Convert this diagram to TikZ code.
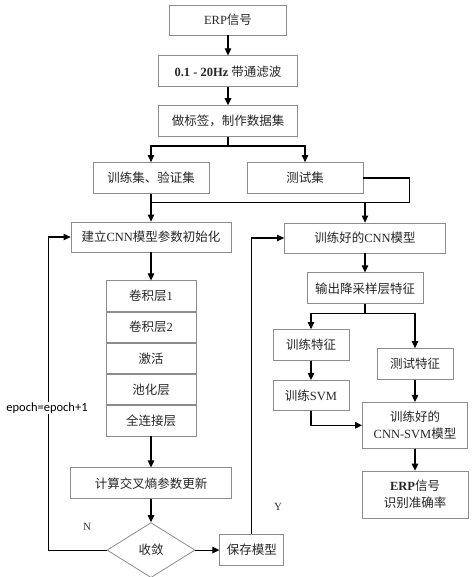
\documentclass[tikz,border=0pt]{standalone}
\usepackage{fontspec}
\setmainfont{Liberation Serif}
\newfontfamily\zhfont{Noto Sans CJK SC}
\newfontfamily\lblfont{Carlito}
\newcommand{\zh}[1]{{\zhfont #1}}
\usetikzlibrary{arrows.meta,positioning,calc,shapes.geometric}

\begin{document}
\begin{tikzpicture}[x=1pt, y=1pt, >={Triangle[length=7pt,width=6.5pt]},
  stepbox/.style={draw=black!45, line width=0.8pt, align=center, minimum height=31pt, inner sep=2pt, text=black!85, font=\fontsize{12.5}{17}\selectfont},
  laybox/.style={stepbox, minimum width=90pt, minimum height=30.4pt},
  decbox/.style={stepbox, diamond, aspect=1.6, minimum width=88pt, minimum height=55pt, inner sep=0pt},
  flow/.style={line width=1.1pt, black}]
  \useasboundingbox (0,0) rectangle (474,-577);
  \node[stepbox, minimum width=117pt, minimum height=30pt] (erp) at (228,-20) {ERP\zh{信号}};
  \node[stepbox, minimum width=139pt, below=20pt of erp] (bpf) {\textbf{0.1 - 20Hz} \zh{带通滤波}};
  \node[stepbox, minimum width=139pt, below=18pt of bpf] (lab) {\zh{做标签，制作数据集}};
  \node[stepbox, minimum width=116pt] (trval) at (151,-178) {\zh{训练集、验证集}};
  \node[stepbox, minimum width=116pt] (test) at (305,-178) {\zh{测试集}};
  \node[stepbox, minimum width=160pt, minimum height=30pt] (init) at (151,-237) {\zh{建立}CNN\zh{模型参数初始化}};
  \node[stepbox, minimum width=161pt, minimum height=30pt] (cnn) at (365,-238) {\zh{训练好的}CNN\zh{模型}};
  % CNN layers
  \node[laybox, below=28pt of init] (c1) {\zh{卷积层}1};
  \node[laybox, below=0pt of c1] (c2) {\zh{卷积层}2};
  \node[laybox, below=0pt of c2] (act) {\zh{激活}};
  \node[laybox, below=0pt of act] (pool) {\zh{池化层}};
  \node[laybox, below=0pt of pool] (fc) {\zh{全连接层}};
  \node[stepbox, minimum width=161pt, below=31pt of fc] (loss) {\zh{计算交叉熵参数更新}};
  \node[decbox, below=23pt of loss] (conv) {\zh{收敛}};
  \node[stepbox, minimum width=64pt, right=24pt of conv] (save) {\zh{保存模型}};
  % SVM side
  \node[stepbox, minimum width=116pt, below=19pt of cnn] (feat) {\zh{输出降采样层特征}};
  \node[stepbox, minimum width=76pt] (trf) at (311,-345) {\zh{训练特征}};
  \node[stepbox, minimum width=76pt] (tef) at (415,-364) {\zh{测试特征}};
  \node[stepbox, minimum width=76pt, minimum height=30pt, below=19pt of trf] (svm) {\zh{训练}SVM};
  \node[stepbox, minimum width=105pt, minimum height=46pt, below=22pt of tef] (cnnsvm) {\zh{训练好的}\\CNN-SVM\zh{模型}};
  \node[stepbox, minimum width=106pt, minimum height=47pt, below=22pt of cnnsvm] (acc) {\textbf{ERP}\zh{信号}\\\zh{识别准确率}};

  \draw[flow,->] (erp) -- (bpf);
  \draw[flow,->] (bpf) -- (lab);
  \coordinate[below=9pt of lab] (s1);
  \draw[flow] (lab) -- (s1);
  \draw[flow,->] (s1) -| (trval);
  \draw[flow,->] (s1) -| (test);
  \coordinate[below=9pt of trval] (s2);
  \coordinate (s2r) at (s2 -| cnn);
  \draw[flow] (trval) -- (s2);
  \draw[flow,->] (s2) -- (init);
  \draw[flow] (test.east) -- ++(46,0) |- (s2);
  \draw[flow,->] (s2r) -- (cnn);
  \draw[flow,->] (init) -- (c1);
  \draw[flow,->] (fc) -- (loss);
  \draw[flow,->] (loss) -- (conv);
  \draw[flow,->] (conv) -- (save);
  \draw[flow,->] (conv.west) -- ++(-58,0) |- (init.west);
  \draw[flow,->] (save) |- (cnn.west);
  \node[font=\lblfont\fontsize{12.5}{15}\selectfont, fill=white, inner sep=1pt] (ep) at (47,-408) {epoch=epoch+1};
  \node[font=\fontsize{11}{13}\selectfont, text=black!80] (no) at (87,-527) {N};
  \node[font=\fontsize{11}{13}\selectfont, text=black!80] (yes) at (278,-507) {Y};
  \draw[flow,->] (cnn) -- (feat);
  \coordinate[below=9pt of feat] (s3);
  \draw[flow] (feat) -- (s3);
  \draw[flow,->] (s3) -| (trf);
  \draw[flow,->] (s3) -| (tef);
  \draw[flow,->] (trf) -- (svm);
  \draw[flow,->] (svm) |- (cnnsvm);
  \draw[flow,->] (tef) -- (cnnsvm);
  \draw[flow,->] (cnnsvm) -- (acc);
\end{tikzpicture}
\end{document}
